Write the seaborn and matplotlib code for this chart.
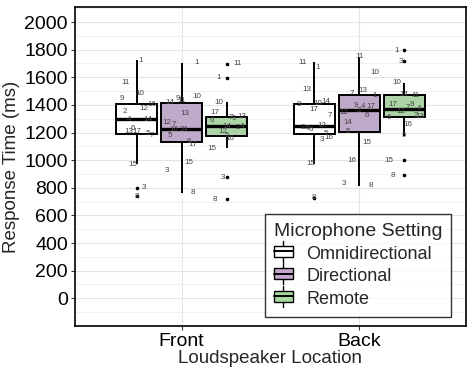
import matplotlib
matplotlib.use("Agg")
import matplotlib.pyplot as plt
from matplotlib.patches import Patch, Rectangle
from matplotlib.lines import Line2D
from matplotlib.legend_handler import HandlerBase
from matplotlib.ticker import MultipleLocator
import seaborn as sns
import pandas as pd

locations = ["Front", "Back"]
settings = ["Omnidirectional", "Directional", "Remote"]
participants = list(range(1, 18))

# response time (ms) for participants 1..17
front_omni = [1724, 1351, 801, 1295, 1190, 1230, 1175, 740, 1445, 1483, 1565, 1377, 1210, 1295, 970, 1404, 1205]
front_dir = [1705, 1223, 926, 1225, 1175, 1134, 1257, 765, 1445, 1459, 1435, 1276, 1336, 1416, 986, 1220, 1114]
front_remote = [1597, 1240, 878, 1245, 1175, 1290, 1310, 716, 1300, 1421, 1698, 1211, 1315, 1244, 1085, 1160, 1348]
back_omni = [1669, 1240, 1150, 1228, 1192, 1223, 1324, 728, 1400, 1409, 1710, 1250, 1512, 1428, 975, 1165, 1368]
back_dir = [1469, 1362, 832, 1392, 1206, 1324, 1480, 815, 1395, 1633, 1749, 1348, 1507, 1271, 1127, 994, 1392]
back_remote = [1794, 1320, 1717, 1372, 1175, 1312, 1380, 890, 1404, 1561, 1469, 1350, 1315, 1475, 1001, 1259, 1400]

colors = ["#ffffff", "#c2a5cf", "#a6dba0"]


class BoxHandler(HandlerBase):
    # little boxplot glyph for the legend
    def create_artists(self, legend, orig, xd, yd, width, height, fontsize, trans):
        fc = orig.get_facecolor()
        rect = Rectangle((xd, yd + height * 0.1), width, height * 0.8, facecolor=fc,
                         edgecolor="black", linewidth=1, transform=trans)
        mid = Line2D([xd, xd + width], [yd + height / 2] * 2, color="black",
                     linewidth=1.4, transform=trans)
        whisk = Line2D([xd + width / 2] * 2, [yd - height * 0.25, yd + height * 1.25],
                       color="black", linewidth=1, transform=trans)
        return [whisk, rect, mid]


def build_frame():
    groups = {
        ("Front", "Omnidirectional"): front_omni,
        ("Front", "Directional"): front_dir,
        ("Front", "Remote"): front_remote,
        ("Back", "Omnidirectional"): back_omni,
        ("Back", "Directional"): back_dir,
        ("Back", "Remote"): back_remote,
    }
    rows = []
    for (loc, setting), vals in groups.items():
        for p, v in zip(participants, vals):
            rows.append({"Location": loc, "Setting": setting, "Participant": p, "RT": v})
    return pd.DataFrame(rows)


def plot_data(df):
    sns.set_style("whitegrid")
    plt.rcParams["font.family"] = ["Liberation Sans", "DejaVu Sans"]
    fig, ax = plt.subplots(figsize=(4.74, 3.79), dpi=100)
    fig.subplots_adjust(left=0.158, right=0.983, bottom=0.14, top=0.982)

    slot = 0.76 / 3
    sns.boxplot(data=df, x="Location", y="RT", hue="Setting", order=locations,
                hue_order=settings, palette=colors, width=0.76, gap=0.1,
                linecolor="black", linewidth=1.4, showcaps=False,
                medianprops=dict(linewidth=2.4),
                flierprops=dict(marker="o", markersize=1.6, markerfacecolor="black",
                                markeredgecolor="black"),
                legend=False, ax=ax)

    # participant labels, spread a little sideways
    for g, (i, j) in enumerate([(i, j) for i in range(2) for j in range(3)]):
        sub = df[(df.Location == locations[i]) & (df.Setting == settings[j])]
        for p, v in zip(sub.Participant, sub.RT):
            jit = (((p * 5 + g * 3) % 9) - 4) / 4 * 0.085
            ax.text(i + (j - 1) * slot + jit, v, str(p), fontsize=5.8,
                    color="#444444", ha="center", va="center", zorder=5)

    ax.set_xlim(-0.6, 1.6)
    ax.set_ylim(-200, 2110)
    ax.set_yticks(range(0, 2001, 200))
    ax.yaxis.set_minor_locator(MultipleLocator(100))
    ax.grid(which="major", color="#e4e4e4", linewidth=0.8)
    ax.grid(which="minor", axis="y", color="#eeeeee", linewidth=0.6)
    ax.set_axisbelow(True)
    for s in ax.spines.values():
        s.set_edgecolor("black")
        s.set_linewidth(1.2)
    ax.tick_params(axis="both", which="major", bottom=True, left=True, length=3,
                   width=0.8, color="#333333", labelsize=14, labelcolor="black", pad=2)
    ax.tick_params(axis="y", which="minor", left=False)
    ax.set_xlabel("Loudspeaker Location", fontsize=13.5, labelpad=0)
    ax.set_ylabel("Response Time (ms)", fontsize=13.5, labelpad=3)

    handles = [Patch(facecolor=c, edgecolor="black") for c in colors]
    leg = ax.legend(handles, settings, title="Microphone Setting", loc="lower right",
                    bbox_to_anchor=(0.962, 0.028), borderaxespad=0, fontsize=13,
                    title_fontsize=14, frameon=True, fancybox=False, handlelength=1.1,
                    handleheight=0.8, handletextpad=0.7, labelspacing=0.3,
                    borderpad=0.5, handler_map={Patch: BoxHandler()})
    leg.get_frame().set_edgecolor("black")
    leg.get_frame().set_linewidth(1)
    leg._legend_box.align = "left"

    fig.savefig("out.png", dpi=100)


if __name__ == "__main__":
    df = build_frame()
    plot_data(df)
